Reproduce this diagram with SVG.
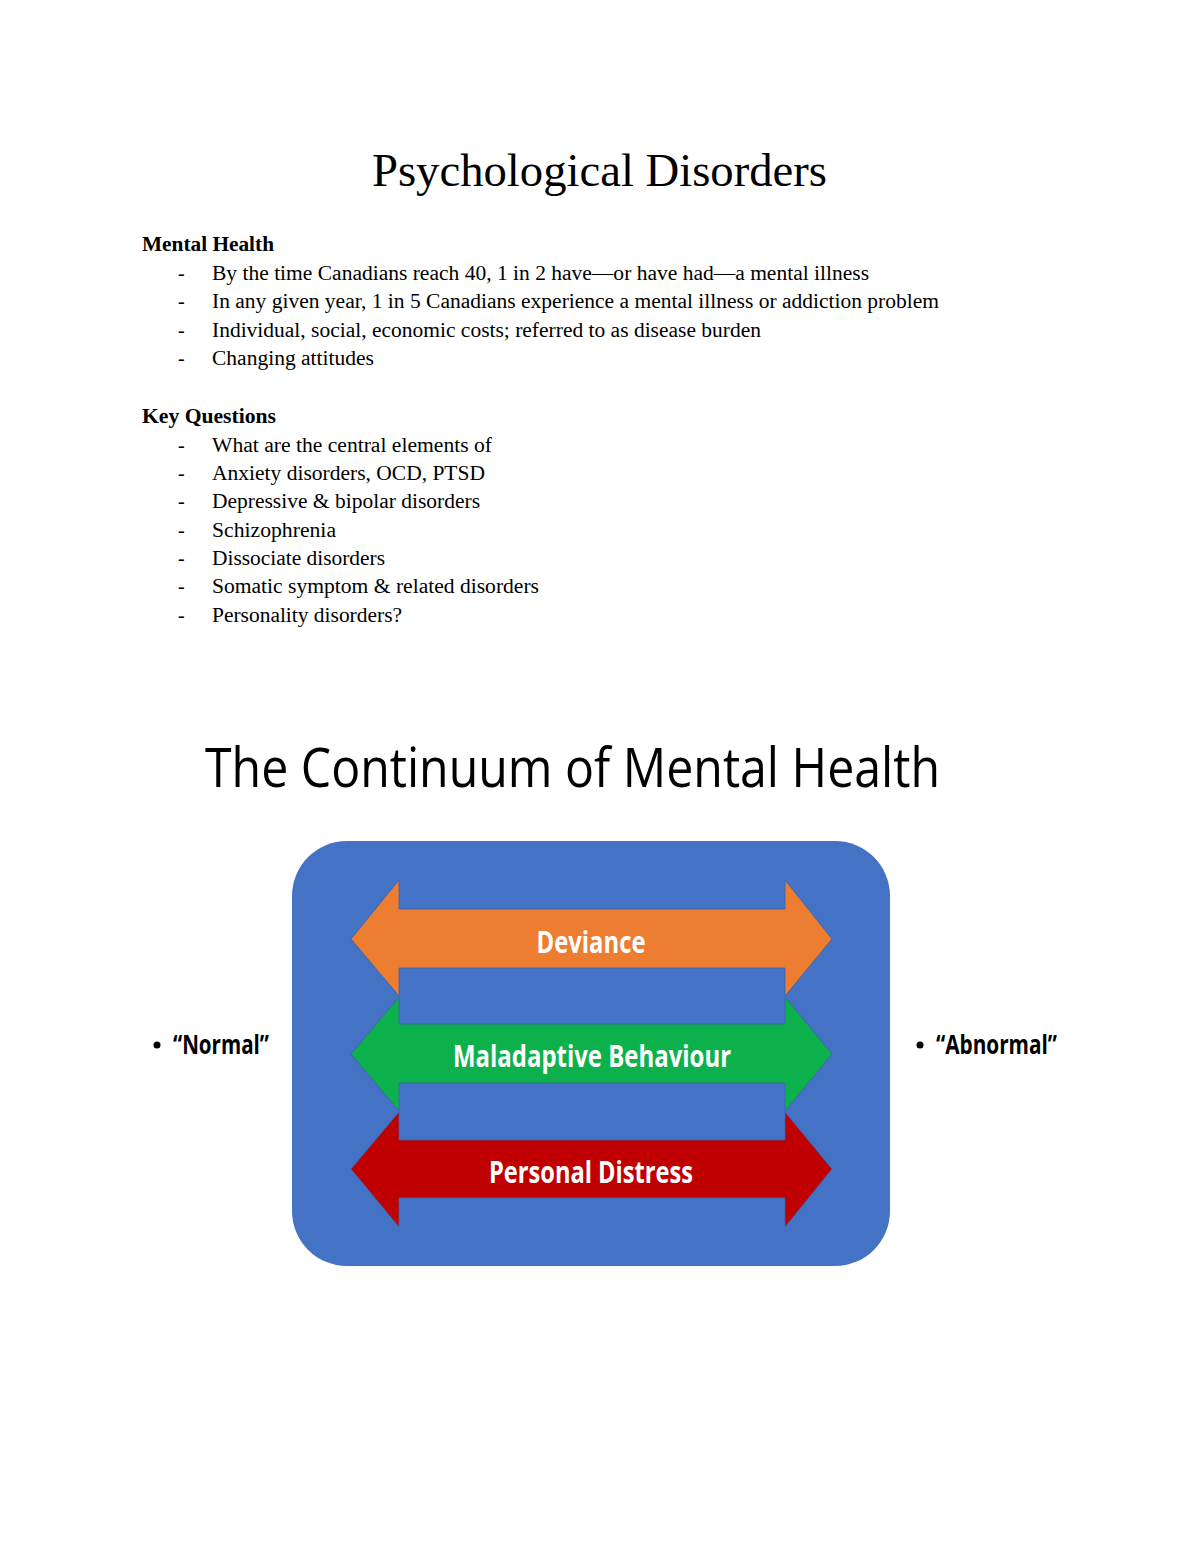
<svg xmlns="http://www.w3.org/2000/svg" width="1200" height="1553" viewBox="0 0 1200 1553">
<style>
.serif{font-family:"Liberation Serif","Times New Roman",serif;fill:#000}
.body{font-size:20px}
.head{font-size:20px;font-weight:bold}
.sans{font-family:"Open Sans","Liberation Sans",sans-serif}
.lbl{font-size:31px;font-weight:bold;fill:#fff;text-anchor:middle}
.side{font-size:27px;font-weight:bold;fill:#000}
.arrow{stroke:#3a64a8;stroke-width:0.8}
</style>
<rect width="1200" height="1553" fill="#fff"/>
<g id="page-text" class="serif">
<text x="372" y="186" font-size="47" textLength="455" lengthAdjust="spacingAndGlyphs">Psychological Disorders</text>
<text class="head" x="142" y="251" textLength="132" lengthAdjust="spacingAndGlyphs">Mental Health</text>
<g class="body">
<text x="178" y="280">-</text><text x="212" y="280" textLength="657" lengthAdjust="spacingAndGlyphs">By the time Canadians reach 40, 1 in 2 have—or have had—a mental illness</text>
<text x="178" y="308">-</text><text x="212" y="308" textLength="727" lengthAdjust="spacingAndGlyphs">In any given year, 1 in 5 Canadians experience a mental illness or addiction problem</text>
<text x="178" y="337">-</text><text x="212" y="337" textLength="549" lengthAdjust="spacingAndGlyphs">Individual, social, economic costs; referred to as disease burden</text>
<text x="178" y="365">-</text><text x="212" y="365" textLength="162" lengthAdjust="spacingAndGlyphs">Changing attitudes</text>
</g>
<text class="head" x="142" y="423" textLength="134" lengthAdjust="spacingAndGlyphs">Key Questions</text>
<g class="body">
<text x="178" y="452">-</text><text x="212" y="452" textLength="280" lengthAdjust="spacingAndGlyphs">What are the central elements of</text>
<text x="178" y="480">-</text><text x="212" y="480" textLength="273" lengthAdjust="spacingAndGlyphs">Anxiety disorders, OCD, PTSD</text>
<text x="178" y="508">-</text><text x="212" y="508" textLength="268" lengthAdjust="spacingAndGlyphs">Depressive &amp; bipolar disorders</text>
<text x="178" y="537">-</text><text x="212" y="537" textLength="124" lengthAdjust="spacingAndGlyphs">Schizophrenia</text>
<text x="178" y="565">-</text><text x="212" y="565" textLength="173" lengthAdjust="spacingAndGlyphs">Dissociate disorders</text>
<text x="178" y="593">-</text><text x="212" y="593" textLength="327" lengthAdjust="spacingAndGlyphs">Somatic symptom &amp; related disorders</text>
<text x="178" y="622">-</text><text x="212" y="622" textLength="190" lengthAdjust="spacingAndGlyphs">Personality disorders?</text>
</g>
</g>
<g id="continuum-title" class="sans">
<text x="205" y="787" font-size="54" fill="#000" textLength="735" lengthAdjust="spacingAndGlyphs">The Continuum of Mental Health</text>
</g>
<g id="background">
<rect x="292" y="841" width="598" height="425" rx="55" ry="55" fill="#4472C4"/>
</g>
<g id="deviance">
<polygon class="arrow" fill="#ED7D31" points="351,939 399,880 399,909 785,909 785,880 832,939 785,996 785,968 399,968 399,996"/>
<text class="sans lbl" x="591" y="953" textLength="109" lengthAdjust="spacingAndGlyphs">Deviance</text>
</g>
<g id="maladaptive">
<polygon class="arrow" fill="#0DB14B" points="351,1054 399,997 399,1024 785,1024 785,997 832,1054 785,1111 785,1083 399,1083 399,1111"/>
<text class="sans lbl" x="592" y="1067" textLength="278" lengthAdjust="spacingAndGlyphs">Maladaptive Behaviour</text>
</g>
<g id="distress">
<polygon class="arrow" fill="#C00000" points="351,1169 399,1112 399,1140 785,1140 785,1112 832,1169 785,1227 785,1198 399,1198 399,1227"/>
<text class="sans lbl" x="591" y="1183" textLength="204" lengthAdjust="spacingAndGlyphs">Personal Distress</text>
</g>
<g id="normal" class="sans">
<circle cx="157" cy="1045" r="3.5" fill="#000"/>
<text class="side" x="173" y="1054" textLength="96" lengthAdjust="spacingAndGlyphs">“Normal”</text>
</g>
<g id="abnormal" class="sans">
<circle cx="920" cy="1045" r="3.5" fill="#000"/>
<text class="side" x="936" y="1054" textLength="121" lengthAdjust="spacingAndGlyphs">“Abnormal”</text>
</g>
<g id="connectors"></g>
</svg>
